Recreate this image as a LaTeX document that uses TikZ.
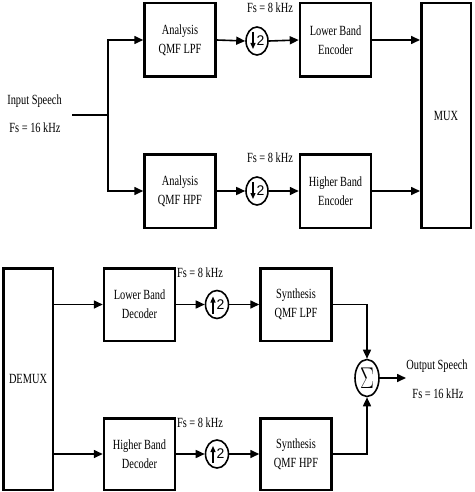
\documentclass[tikz,border=0pt]{standalone}
\usepackage{fontspec}
\usepackage{graphicx}
\setmainfont{Liberation Serif}[FakeStretch=0.74]
\setsansfont{Liberation Sans}
\usetikzlibrary{arrows.meta,shapes.geometric}
\begin{document}
\begin{tikzpicture}[x=1pt,y=-1pt,
  txt/.style={font=\fontsize{14}{19}\selectfont, align=center, inner sep=0pt},
  blk/.style={txt, draw, line width=2.5pt, minimum width=71pt, minimum height=73.5pt},
  tall/.style={txt, draw, line width=2.5pt, minimum width=49.5pt},
  rate/.style={draw, ellipse, line width=1.6pt, minimum width=22pt, minimum height=28pt, inner sep=0pt},
  conn/.style={line width=1.6pt, -{Triangle[length=9pt,width=8pt]}},
  wire/.style={line width=1.6pt},
  inarr/.style={line width=1.3pt, -{Triangle[length=6pt,width=5pt]}},
  two/.style={font=\sffamily\fontsize{14}{14}\selectfont, inner sep=0pt}
]
\useasboundingbox (0,0) rectangle (474,492);

% ---------- analysis half ----------
\node[txt] (in1) at (34.5,101) {Input Speech};
\node[txt] (in2) at (35,128) {Fs = 16 kHz};
\coordinate (inS) at (72,115);
\coordinate (jn) at (108,115);

\node[blk] (aL) at (180,40) {Analysis\\QMF LPF};
\node[blk] (aH) at (180,191) {Analysis\\QMF HPF};
\node[rate] (dL) at (257,41) {};
\node[rate] (dH) at (257,191) {};
\node[txt] (fL) at (270,8) {Fs = 8 kHz};
\node[txt] (fH) at (270,158) {Fs = 8 kHz};
\node[blk] (eL) at (335.5,40) {Lower Band\\Encoder};
\node[blk] (eH) at (335.5,191) {Higher Band\\Encoder};
\node[tall, minimum height=224.5pt] (mux) at (446,115.5) {MUX};

\draw[wire] (inS) -- (jn);
\draw[conn] (jn) |- (aL.west);
\draw[conn] (jn) |- (aH.west);
\draw[conn] (aL.east) -- (dL.west);
\draw[conn] (aH.east) -- (dH.west);
\draw[conn] (dL.east) -- (eL.west);
\draw[conn] (dH.east) -- (eH.west);
\draw[conn] (eL.east) -- (eL.east -| mux.west);
\draw[conn] (eH.east) -- (eH.east -| mux.west);

\draw[inarr] ([shift={(-4,-9)}]dL.center) -- ([shift={(-4,8)}]dL.center);
\node[two] (dL2) at ([shift={(3.5,0)}]dL.center) {2};
\draw[inarr] ([shift={(-4,-9)}]dH.center) -- ([shift={(-4,8)}]dH.center);
\node[two] (dH2) at ([shift={(3.5,0)}]dH.center) {2};

% ---------- synthesis half ----------
\node[tall, minimum height=221.5pt] (demux) at (28,379) {DEMUX};
\node[blk, minimum height=72.5pt] (cL) at (139.5,304.5) {Lower Band\\Decoder};
\node[blk, minimum height=71.5pt] (cH) at (139.5,454) {Higher Band\\Decoder};
\node[rate, minimum width=23pt] (uL) at (217,304.5) {};
\node[rate, minimum width=23pt] (uH) at (217,454) {};
\node[txt] (gL) at (200,273) {Fs = 8 kHz};
\node[txt] (gH) at (200,423) {Fs = 8 kHz};
\node[blk, minimum height=72.5pt] (sL) at (296,304.5) {Synthesis\\QMF LPF};
\node[blk, minimum height=71.5pt] (sH) at (296,454) {Synthesis\\QMF HPF};
\node[draw, ellipse, line width=1.6pt, minimum width=24pt, minimum height=37pt, inner sep=0pt] (sum) at (367,378)
  {\scalebox{1}[1.45]{\fontsize{20}{20}\selectfont$\Sigma$}};
\coordinate (outE) at (406,378);
\node[txt] (o1) at (437,366) {Output Speech};
\node[txt] (o2) at (438,394) {Fs = 16 kHz};

\draw[conn] (demux.east |- cL.west) -- (cL.west);
\draw[conn] (demux.east |- cH.west) -- (cH.west);
\draw[conn] (cL.east) -- (uL.west);
\draw[conn] (cH.east) -- (uH.west);
\draw[conn] (uL.east) -- (sL.west);
\draw[conn] (uH.east) -- (sH.west);
\draw[conn] (sL.east) -| (sum.north);
\draw[conn] (sH.east) -| (sum.south);
\draw[conn] (sum.east) -- (outE);

\draw[inarr] ([shift={(-4,9)}]uL.center) -- ([shift={(-4,-8)}]uL.center);
\node[two] (uL2) at ([shift={(3.5,0)}]uL.center) {2};
\draw[inarr] ([shift={(-4,9)}]uH.center) -- ([shift={(-4,-8)}]uH.center);
\node[two] (uH2) at ([shift={(3.5,0)}]uH.center) {2};
\end{tikzpicture}
\end{document}
